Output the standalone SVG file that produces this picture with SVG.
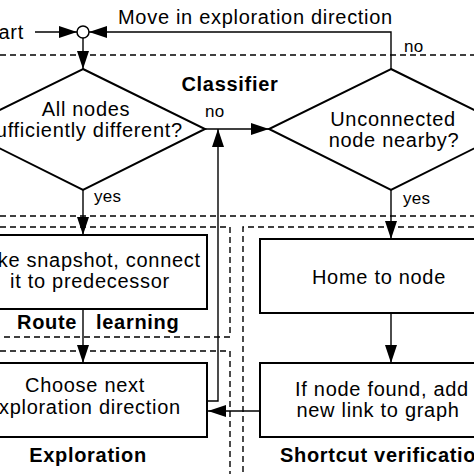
<svg xmlns="http://www.w3.org/2000/svg" width="474" height="474" viewBox="0 0 474 474">
<style>
text{font-family:"Liberation Sans",Arial,Helvetica,sans-serif;font-size:20px;letter-spacing:0.7px;fill:#000}
.b{font-weight:bold}
.m{text-anchor:middle}
.s{font-size:17px;letter-spacing:0.3px}
.shape{fill:#fff;stroke:#000;stroke-width:2}
.dash{fill:none;stroke:#000;stroke-width:1.4;stroke-dasharray:6,4}
.c{fill:none;stroke:#000;stroke-width:1.4}
</style>
<defs>
<marker id="ah" markerUnits="userSpaceOnUse" markerWidth="19" markerHeight="12" refX="18" refY="6" orient="auto">
<path d="M0,0 L18,6 L0,12 z" fill="#000"/>
</marker>
</defs>
<rect width="474" height="474" fill="#fff"/>
<g id="groups">
<line class="dash" x1="-10" y1="55" x2="484" y2="55"/>
<line class="dash" x1="-10" y1="216" x2="484" y2="216"/>
<path class="dash" d="M-10,227 H230 V337 H-10"/>
<path class="dash" d="M-10,351 H230 V484"/>
<path class="dash" d="M484,227 H243 V484"/>
<text class="b m" x="230" y="91">Classifier</text>
<text class="b" x="17" y="329">Route</text>
<text class="b" x="96" y="329">learning</text>
<text class="b m" x="88" y="462">Exploration</text>
<text class="b" x="280" y="462">Shortcut verification</text>
</g>
<g id="connectors">
<line class="c" x1="35" y1="32" x2="77" y2="32" marker-end="url(#ah)"/>
<path class="c" d="M391,69 V32 H89" marker-end="url(#ah)"/>
<line class="c" x1="83" y1="38" x2="83" y2="69" marker-end="url(#ah)"/>
<line class="c" x1="205" y1="129" x2="269" y2="129" marker-end="url(#ah)"/>
<path class="c" d="M207,401 H218 V129" marker-end="url(#ah)"/>
<line class="c" x1="83" y1="190" x2="83" y2="235" marker-end="url(#ah)"/>
<line class="c" x1="83" y1="309" x2="83" y2="363" marker-end="url(#ah)"/>
<line class="c" x1="391" y1="190" x2="391" y2="239" marker-end="url(#ah)"/>
<line class="c" x1="391" y1="313" x2="391" y2="363" marker-end="url(#ah)"/>
<line class="c" x1="260" y1="411" x2="208" y2="411" marker-end="url(#ah)"/>
<text x="24" y="39" style="text-anchor:end">Start</text>
<text x="118" y="24">Move in exploration direction</text>
<text class="s" x="404" y="52">no</text>
<text class="s" x="205" y="117">no</text>
<text class="s" x="94" y="202">yes</text>
<text class="s" x="403" y="204">yes</text>
</g>
<g id="merge">
<circle cx="83" cy="32" r="6" fill="#fff" stroke="#000" stroke-width="1.5"/>
</g>
<g id="d1">
<polygon class="shape" points="83,69 205,129 83,190 -39,129"/>
<text class="m" x="86" y="116">All nodes</text>
<text class="m" x="84" y="137">sufficiently different?</text>
</g>
<g id="d2">
<polygon class="shape" points="391,69 513,129 391,190 269,129"/>
<text class="m" x="393" y="126">Unconnected</text>
<text class="m" x="394" y="147">node nearby?</text>
</g>
<g id="r1">
<rect class="shape" x="-45" y="235" width="252" height="74"/>
<text class="m" x="88" y="267">Take snapshot, connect</text>
<text class="m" x="90" y="288">it to predecessor</text>
</g>
<g id="r2">
<rect class="shape" x="-45" y="363" width="252" height="74"/>
<text class="m" x="85" y="392">Choose next</text>
<text class="m" x="84" y="414">exploration direction</text>
</g>
<g id="r3">
<rect class="shape" x="260" y="239" width="240" height="74"/>
<text class="m" x="379" y="284">Home to node</text>
</g>
<g id="r4">
<rect class="shape" x="260" y="363" width="240" height="74"/>
<text class="m" x="382" y="396">If node found, add</text>
<text class="m" x="378" y="417">new link to graph</text>
</g>
</svg>
